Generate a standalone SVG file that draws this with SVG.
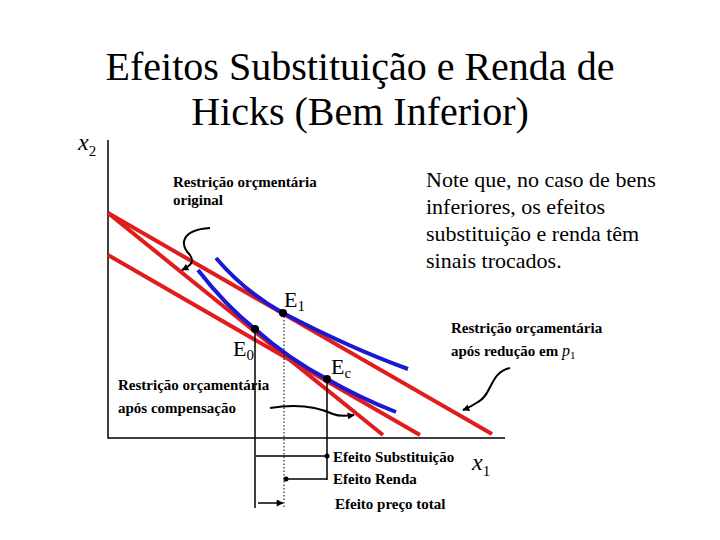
<svg xmlns="http://www.w3.org/2000/svg" width="720" height="540" viewBox="0 0 720 540" font-family="'Liberation Serif','Times New Roman','DejaVu Serif',serif">
<style>
text{font-family:'Liberation Serif','Times New Roman','DejaVu Serif',serif;fill:#000}
.s{font-size:15px;font-weight:bold}
.r{stroke:#e01c1c;stroke-width:4;fill:none}
.b{stroke:#1a1ad0;stroke-width:4;fill:none}
.k{stroke:#000;stroke-width:1.5;fill:none}
.c{stroke:#000;stroke-width:2;fill:none}
</style>
<defs><marker id="a" viewBox="0 0 10 10" refX="9" refY="5" markerUnits="userSpaceOnUse" markerWidth="9" markerHeight="7" orient="auto"><path d="M0,0L10,5L0,10z" fill="#000"/></marker></defs>
<rect width="720" height="540" fill="#fff"/>
<text font-size="40" x="360" y="80" text-anchor="middle">Efeitos Substituição e Renda de</text>
<text font-size="40" x="360" y="125" text-anchor="middle">Hicks (Bem Inferior)</text>
<g id="axes" class="k"><path d="M108,140V438H505"/></g>
<text font-size="24" x="78" y="150" font-style="italic">x<tspan font-size="15" dy="6" font-style="normal">2</tspan></text>
<text font-size="24" x="472" y="470" font-style="italic">x<tspan font-size="15" dy="6" font-style="normal">1</tspan></text>
<g id="connectors">
<path class="r" d="M108,213L383,435"/>
<path class="r" d="M108,213L492,434"/>
<path class="r" d="M108,255L420,435"/>
<path class="b" d="M216,258Q245,292 283,313Q350,348 408,369"/>
<path class="b" d="M198,270Q225,305 255,329Q290,360 327,379Q360,398 396,412"/>
<path class="k" d="M255,329V508M327,379V480"/>
<path d="M284,313V508" stroke="#000" stroke-width="1" stroke-dasharray="1.5,2"/>
<path class="k" d="M256,456H327M327,479H286"/>
<circle cx="327" cy="456" r="2.5"/><circle cx="286" cy="479" r="2.5"/>
<path class="k" d="M258,503H283" marker-end="url(#a)"/>
<path class="c" d="M210,228C180,230 180,245 190,255C195,262 190,266 182,270" marker-end="url(#a)"/>
<path class="c" d="M270,408C300,403 320,408 333,414C340,417 347,416 354,415" marker-end="url(#a)"/>
<path class="c" d="M510,368C490,372 492,395 478,402C472,406 468,408 463,410" marker-end="url(#a)"/>
</g>
<g id="E1"><circle cx="283" cy="313" r="4"/><text font-size="22" x="284" y="307">E<tspan font-size="15" dy="4">1</tspan></text></g>
<g id="E0"><circle cx="255" cy="329" r="4"/><text font-size="22" x="233" y="356">E<tspan font-size="15" dy="4">0</tspan></text></g>
<g id="Ec"><circle cx="327" cy="379" r="4"/><text font-size="22" x="331" y="374">E<tspan font-size="15" dy="4">c</tspan></text></g>
<text class="s" x="173" y="187">Restrição orçmentária</text>
<text class="s" x="173" y="205">original</text>
<text class="s" x="451" y="333">Restrição orçamentária</text>
<text class="s" x="451" y="356">após redução em <tspan font-style="italic" font-weight="normal" font-size="16">p</tspan><tspan font-weight="normal" font-size="11" dy="3">1</tspan></text>
<text class="s" x="118" y="390">Restrição orçamentária</text>
<text class="s" x="118" y="413">após compensação</text>
<text class="s" x="333" y="462">Efeito Substituição</text>
<text class="s" x="333" y="484">Efeito Renda</text>
<text class="s" x="335" y="509">Efeito preço total</text>
<g id="note" font-size="22">
<text x="426" y="187">Note que, no caso de bens</text>
<text x="426" y="214">inferiores, os efeitos</text>
<text x="426" y="241">substituição e renda têm</text>
<text x="426" y="268">sinais trocados.</text>
</g>
</svg>
